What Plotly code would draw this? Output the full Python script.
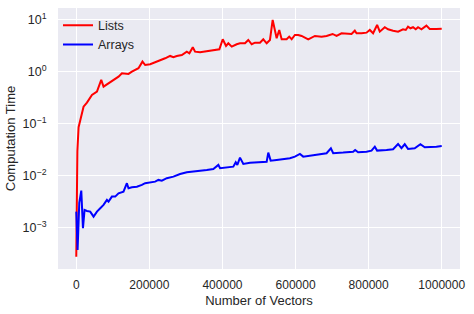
import plotly.graph_objects as go

# ---- data ----
lists_x = [0, 3000, 6300, 19900, 29200, 38200, 42900, 56600, 65600, 68300, 74600, 88200,
           101900, 115600, 124900, 133900, 142900, 152200, 170200, 181100, 188500, 202200,
           229500, 243100, 256800, 265800, 275100, 288800, 302400, 309500, 318800, 325100,
           338800, 366100, 391500, 400800, 409800, 416100, 425400, 439000, 448000, 461700,
           470700, 480000, 489000, 502700, 511700, 521000, 530000, 537400, 543700, 548300,
           555400, 562000, 575600, 582700, 589300, 598300, 607300, 616600, 634700, 653000,
           671200, 684900, 701300, 712200, 725900, 743900, 753200, 762200, 766900, 780500,
           794200, 803200, 812200, 823200, 830500, 844200, 853200, 866900, 880500, 894200,
           901600, 907800, 914400, 921500, 928900, 935200, 944500, 958100, 967100, 985400,
           1000000]
lists_y = [2.8e-4, 0.03, 0.0864, 0.215, 0.257, 0.335, 0.361, 0.418, 0.606, 0.702, 0.521, 0.606,
           0.724, 0.812, 0.944, 0.944, 0.915, 1.01, 1.18, 1.58, 1.36, 1.41,
           1.65, 1.83, 2.03, 1.92, 2.03, 2.12, 2.46, 2.29, 2.99, 2.46,
           2.39, 2.53, 2.73, 4.25, 3.16, 3.56, 3.07, 3.41, 3.56, 3.56,
           4.12, 3.41, 3.66, 3.66, 4.25, 3.56, 4.12, 10.0, 6.42, 4.45,
           6.42, 4.25, 4.25, 4.77, 4.25, 5.15, 5.15, 4.92, 4.25, 4.92,
           4.77, 4.92, 5.38, 4.92, 5.55, 5.55, 5.38, 6.22, 5.55, 5.55,
           5.70, 6.42, 5.55, 8.01, 5.96, 7.24, 6.62, 6.22, 5.96, 6.62,
           6.42, 7.43, 6.92, 7.24, 6.62, 7.24, 6.62, 7.77, 6.71, 6.71,
           6.80]

arrays_x = [0, 3600, 8200, 13700, 18300, 22700, 29200, 38200, 47300, 56600, 65600, 74600,
            83900, 88200, 97500, 106500, 115600, 129200, 138500, 142900, 152200, 165800,
            179500, 188500, 215800, 224800, 234100, 247800, 265800, 284100, 302400, 320500,
            338800, 357100, 375100, 388800, 393400, 411700, 429700, 436300, 440700, 448000,
            457100, 475400, 502700, 521000, 525400, 531900, 548300, 566300, 584600, 598300,
            612000, 621000, 639300, 666600, 684900, 696700, 703000, 730300, 757600, 763100,
            771200, 794200, 807900, 816900, 823200, 848900, 866900, 880500, 889800, 898800,
            907800, 926100, 941700, 953500, 967100, 985400, 1000000]
arrays_y = [2.06e-3, 3.78e-4, 3.03e-3, 5.21e-3, 9.9e-4, 2.22e-3, 2.12e-3, 2.06e-3, 1.65e-3,
            2.06e-3, 2.39e-3, 2.77e-3, 3.45e-3, 3.2e-3, 4.0e-3, 4.0e-3, 4.64e-3, 4.99e-3,
            7.24e-3, 5.80e-3, 6.07e-3, 6.22e-3, 6.71e-3, 7.24e-3, 7.77e-3, 8.38e-3, 8.13e-3,
            9.04e-3, 9.70e-3, 0.0109, 0.0118, 0.0121, 0.0127, 0.0130, 0.0136, 0.0163, 0.0141,
            0.0147, 0.0151, 0.0183, 0.0163, 0.0225, 0.0170, 0.0180, 0.0183, 0.0188, 0.0281,
            0.0197, 0.0203, 0.0210, 0.0219, 0.0235, 0.0265, 0.0235, 0.0245, 0.0254, 0.0273,
            0.0341, 0.0273, 0.0281, 0.0293, 0.0316, 0.0286, 0.0293, 0.0307, 0.0366, 0.0307,
            0.0316, 0.0326, 0.0412, 0.0341, 0.0407, 0.0331, 0.0341, 0.0407, 0.0356, 0.0356,
            0.0366, 0.0377]

series_names = ["Lists", "Arrays"]
series_colors = ["#FF0000", "#0000FF"]

y_tick_vals = [1e-3, 1e-2, 1e-1, 1, 10]
y_tick_text = ["10<sup>\u22123</sup>", "10<sup>\u22122</sup>", "10<sup>\u22121</sup>",
               "10<sup>0</sup>", "10<sup>1</sup>"]

x_title = "Number of Vectors"
y_title = "Computation Time"

font_family = "Liberation Sans, Arial, sans-serif"

fig = go.Figure()
fig.add_trace(go.Scatter(x=lists_x, y=lists_y, mode="lines", name=series_names[0],
                         line=dict(color=series_colors[0], width=2)))
fig.add_trace(go.Scatter(x=arrays_x, y=arrays_y, mode="lines", name=series_names[1],
                         line=dict(color=series_colors[1], width=2)))

fig.update_layout(
    width=474, height=314,
    margin=dict(l=58, r=14, t=8, b=45),
    paper_bgcolor="white",
    plot_bgcolor="#EAEAF2",
    font=dict(family=font_family, size=12, color="#262626"),
    showlegend=True,
    legend=dict(x=0.0, y=0.99, xanchor="left", yanchor="top",
                bgcolor="rgba(0,0,0,0)", font=dict(size=12.5, color="#262626"),
                tracegroupgap=0, itemwidth=30),
    xaxis=dict(
        range=[-50000, 1050000],
        tick0=0, dtick=200000, tickformat="d",
        showgrid=True, gridcolor="white", gridwidth=1.2,
        zeroline=False, showline=False,
        ticks="outside", ticklen=5, tickcolor="rgba(0,0,0,0)",
        tickfont=dict(size=12, color="#262626"),
        title=dict(text=x_title, font=dict(size=13, color="#262626"), standoff=4),
    ),
    yaxis=dict(
        type="log",
        range=[-3.79, 1.23],
        tickmode="array", tickvals=y_tick_vals, ticktext=y_tick_text,
        showgrid=True, gridcolor="white", gridwidth=1.2,
        zeroline=False, showline=False,
        ticks="outside", ticklen=8, tickcolor="rgba(0,0,0,0)",
        tickfont=dict(size=12.5, color="#262626"),
        title=dict(text=y_title, font=dict(size=13, color="#262626"), standoff=4),
    ),
)

fig.write_html("out.html")
